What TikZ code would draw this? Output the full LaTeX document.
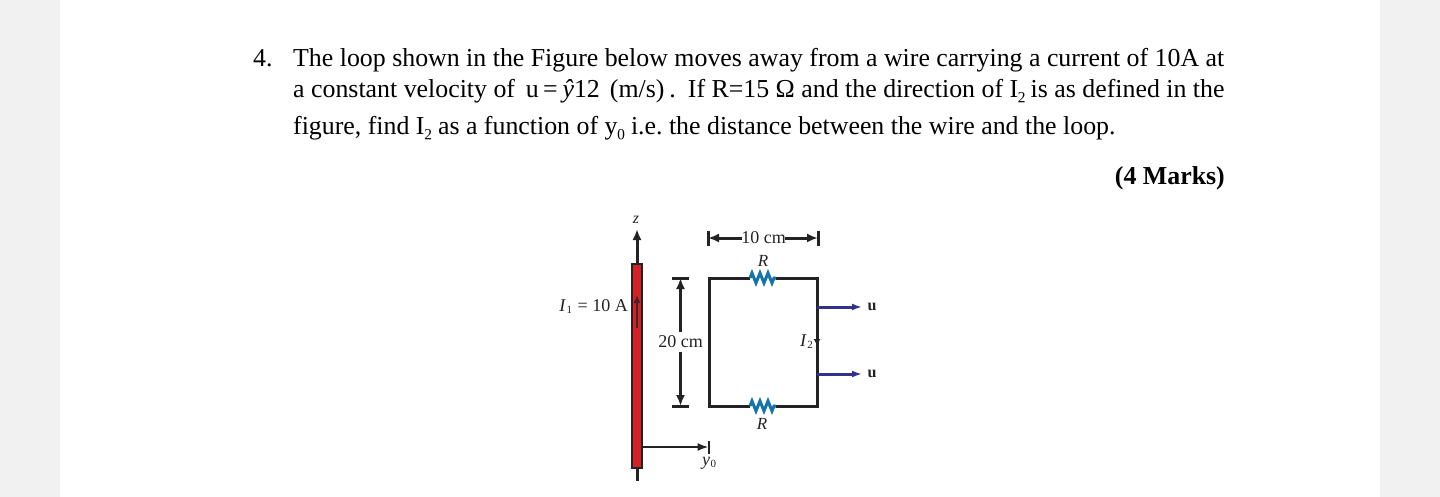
\documentclass[tikz,border=0pt]{standalone}
\usepackage{fontspec}
\setmainfont{Liberation Serif}
\usetikzlibrary{arrows.meta, positioning, decorations.pathmorphing}
\definecolor{pagegray}{RGB}{241,241,241}
\definecolor{wirered}{RGB}{214,32,39}
\definecolor{resblue}{RGB}{20,115,170}
\definecolor{arrownavy}{RGB}{50,50,140}
\definecolor{inkgray}{RGB}{35,35,35}
\frenchspacing
\begin{document}
\begin{tikzpicture}[x=1pt, y=-1pt,
    line/.style={anchor=base west, inner sep=0pt, font=\fontsize{25.85}{25.85}\selectfont, text=black},
    lab/.style={inner sep=0pt, font=\fontsize{18}{18}\selectfont, text=inkgray},
    conductor/.style={line width=3pt, draw=inkgray},
    dimline/.style={line width=3pt, draw=inkgray, -{Latex[length=11pt, width=9pt]}},
    dimbar/.style={line width=3pt, draw=inkgray},
    velocity/.style={line width=3pt, draw=arrownavy, -{Latex[length=10pt, width=7pt]}},
    resistor/.style={line width=3pt, draw=resblue, decorate, decoration={zigzag, segment length=8pt, amplitude=5pt}}]
    \useasboundingbox (0,0) rectangle (1440,497);
    \fill[pagegray] (0,0) rectangle (60,497);
    \fill[pagegray] (1380,0) rectangle (1440,497);

    % question text
    \node[line] (num) at (253,67) {4.};
    \node[line] (l1) at (293,67) {The loop shown in the Figure below moves away from a wire carrying a current of 10A at};
    \node[line] (l2) at (293,98) {a constant velocity of \,u\,=\kern5pt{\itshape ŷ}12\kern10pt(m/s)\kern5pt.\kern12pt If R=15 Ω and the direction of I\kern-1pt₂\kern-2pt{} is as defined in the};
    \node[line] (l3) at (293,135) {figure, find I\kern-1pt₂\kern-1pt{} as a function of y\kern-1pt₀\kern-1pt{} i.e. the distance between the wire and the loop.};
    \node[line, anchor=base east, font=\fontsize{25.85}{25.85}\selectfont\bfseries] (marks) at (1225,185) {(4 Marks)};

    % wire
    \coordinate (ztop) at (637,229);
    \coordinate (zbot) at (637,481);
    \node[draw=inkgray, line width=2.4pt, fill=wirered, minimum width=10pt, minimum height=204pt, inner sep=0pt] (wire) at (637,366) {};
    \draw[dimline] (wire.north) -- (ztop);
    \draw[conductor] (wire.south) -- (zbot);
    \node[lab, font=\fontsize{16}{16}\selectfont\itshape] (zlab) at (636,220) {z};
    \coordinate (ia) at (637,328);
    \coordinate (ib) at (637,295);
    \draw[line width=2pt, draw=inkgray!80!wirered, -{Latex[length=8pt, width=7pt]}] (ia) -- (ib);
    \node[lab, anchor=east] (i1) at (628,307) {\textit{I}\kern.5pt\raisebox{-2pt}{\fontsize{11}{11}\selectfont 1}\kern1pt{} = 10 A};

    % loop
    \coordinate (tl) at (709,278);
    \coordinate (tr) at (817,278);
    \coordinate (br) at (817,406);
    \coordinate (bl) at (709,406);
    \coordinate (r1a) at (750,278);
    \coordinate (r1b) at (776,278);
    \coordinate (r2a) at (750,406);
    \coordinate (r2b) at (776,406);
    \draw[conductor] (r1a) -- (tl) -- (bl) -- (r2a);
    \draw[conductor] (r1b) -- (tr) -- (br) -- (r2b);
    \draw[resistor] (r1a) -- (r1b);
    \draw[resistor] (r2a) -- (r2b);
    \node[lab, font=\fontsize{17}{17}\selectfont\itshape] (rtop) at (763,261) {R};
    \node[lab, font=\fontsize{17}{17}\selectfont\itshape] (rbot) at (762,424) {R};
    \node[lab, anchor=east] (i2) at (813,342) {\textit{I}\kern.5pt\raisebox{-2pt}{\fontsize{11}{11}\selectfont 2}};
    \coordinate (i2a) at (817,336);
    \coordinate (i2b) at (817,346);
    \draw[line width=2pt, draw=inkgray, -{Latex[length=7pt, width=7pt]}] (i2a) -- (i2b);

    % velocity arrows
    \coordinate (ua) at (817,307);
    \coordinate (ub) at (817,374);
    \node[lab, font=\fontsize{16}{16}\selectfont\bfseries] (u1) at (872,307) {u};
    \node[lab, font=\fontsize{16}{16}\selectfont\bfseries] (u2) at (872,374) {u};
    \coordinate (ua2) at (862,307);
    \coordinate (ub2) at (862,374);
    \draw[velocity] (ua) -- (ua2);
    \draw[velocity] (ub) -- (ub2);

    % 10 cm
    \node[lab, inner xsep=-1pt] (w10) at (763.5,238) {10 cm};
    \coordinate (wl) at (708,238);
    \coordinate (wr) at (818,238);
    \coordinate (wl1) at (708,231);
    \coordinate (wl2) at (708,246);
    \coordinate (wr1) at (818,231);
    \coordinate (wr2) at (818,246);
    \draw[dimbar] (wl1) -- (wl2);
    \draw[dimbar] (wr1) -- (wr2);
    \draw[dimline] (w10.west) -- (wl);
    \draw[dimline] (w10.east) -- (wr);

    % 20 cm
    \node[lab, minimum height=20pt] (h20) at (680.5,342) {20 cm};
    \coordinate (ht) at (680.5,278);
    \coordinate (hb) at (680.5,406);
    \coordinate (ht1) at (672,278);
    \coordinate (ht2) at (689,278);
    \coordinate (hb1) at (672,406);
    \coordinate (hb2) at (689,406);
    \draw[dimbar] (ht1) -- (ht2);
    \draw[dimbar] (hb1) -- (hb2);
    \draw[dimline] (h20.north) -- (ht);
    \draw[dimline] (h20.south) -- (hb);

    % y0
    \coordinate (ya) at (642,447);
    \coordinate (yb) at (708.5,447);
    \coordinate (yb1) at (708.5,441);
    \coordinate (yb2) at (708.5,454);
    \draw[line width=1.8pt, draw=inkgray, -{Latex[length=11pt, width=8pt]}] (ya) -- (yb);
    \draw[line width=2pt, draw=inkgray] (yb1) -- (yb2);
    \node[lab] (y0) at (709,463) {\textit{y}\kern.5pt\raisebox{-2pt}{\fontsize{11}{11}\selectfont 0}};
\end{tikzpicture}
\end{document}
